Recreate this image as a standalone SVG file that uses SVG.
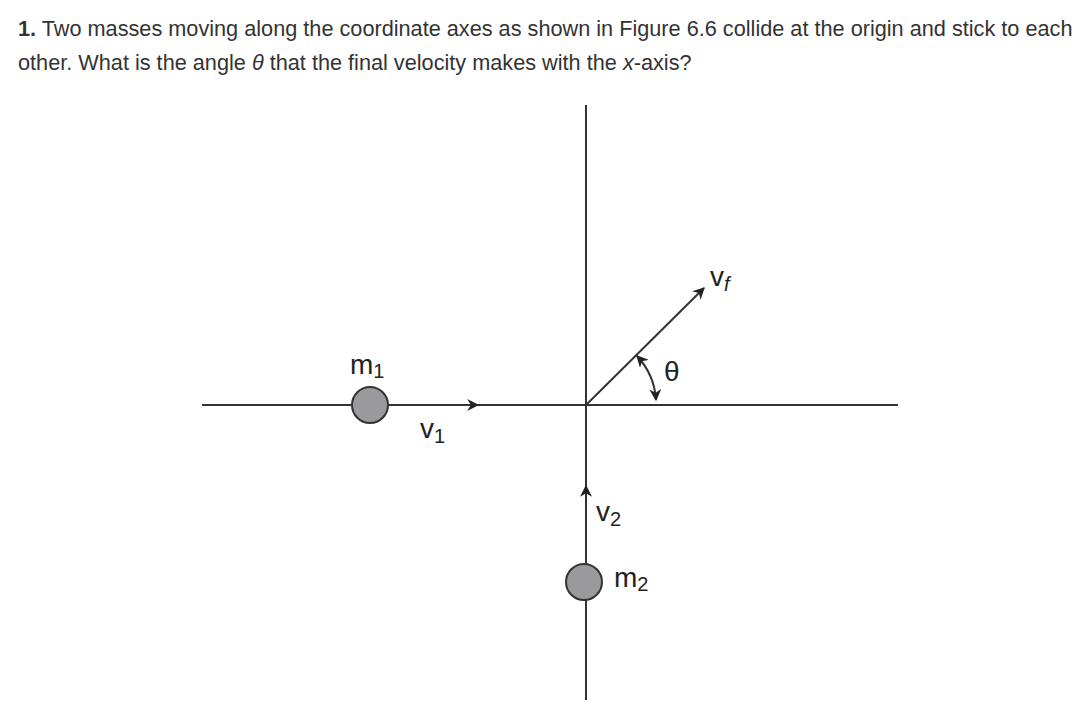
<svg xmlns="http://www.w3.org/2000/svg" width="1073" height="702" viewBox="0 0 1073 702">
<style>
.t{font-family:"Liberation Sans",Arial,sans-serif;font-size:21.7px;fill:#333}
.l{font-family:"Liberation Sans",Arial,sans-serif;font-size:28px;fill:#222}
.ax{stroke:#333;stroke-width:2;fill:none}
.m{fill:#9a9a9c;stroke:#333;stroke-width:2}
</style>
<defs>
<marker id="a" viewBox="0 0 10 10" refX="9" refY="5" markerWidth="12" markerHeight="12" markerUnits="userSpaceOnUse" orient="auto-start-reverse"><path d="M0,0 L10,5 L0,10 L3,5 Z" fill="#222"/></marker>
</defs>
<rect width="1073" height="702" fill="#fff"/>
<text class="t" x="18" y="36"><tspan font-weight="bold">1.</tspan> Two masses moving along the coordinate axes as shown in Figure 6.6 collide at the origin and stick to each</text>
<text class="t" x="18" y="70">other. What is the angle <tspan font-style="italic">θ</tspan> that the final velocity makes with the <tspan font-style="italic">x</tspan>-axis?</text>
<g id="connectors">
<line class="ax" x1="202" y1="405" x2="898" y2="405"/>
<line class="ax" x1="586" y1="105" x2="586" y2="700"/>
<line class="ax" x1="388" y1="405" x2="478" y2="405" marker-end="url(#a)"/>
<line class="ax" x1="586" y1="564" x2="586" y2="486" marker-end="url(#a)"/>
<line class="ax" x1="586" y1="405" x2="704" y2="288" marker-end="url(#a)"/>
<path class="ax" d="M637,356 A71,71 0 0 1 656,400" marker-start="url(#a)" marker-end="url(#a)"/>
</g>
<g id="m1"><circle class="m" cx="370" cy="405" r="18"/><text class="l" x="350" y="374">m<tspan font-size="20" dy="4">1</tspan></text></g>
<g id="m2"><circle class="m" cx="584" cy="582" r="18"/><text class="l" x="614" y="587">m<tspan font-size="20" dy="4">2</tspan></text></g>
<g id="v1"><text class="l" x="420" y="438">v<tspan font-size="20" dy="5">1</tspan></text></g>
<g id="v2"><text class="l" x="596" y="521">v<tspan font-size="20" dy="5">2</tspan></text></g>
<g id="vf"><text class="l" x="710" y="286">v<tspan font-size="20" dy="5" font-style="italic">f</tspan></text></g>
<g id="theta"><text class="l" x="664" y="381">θ</text></g>
</svg>
